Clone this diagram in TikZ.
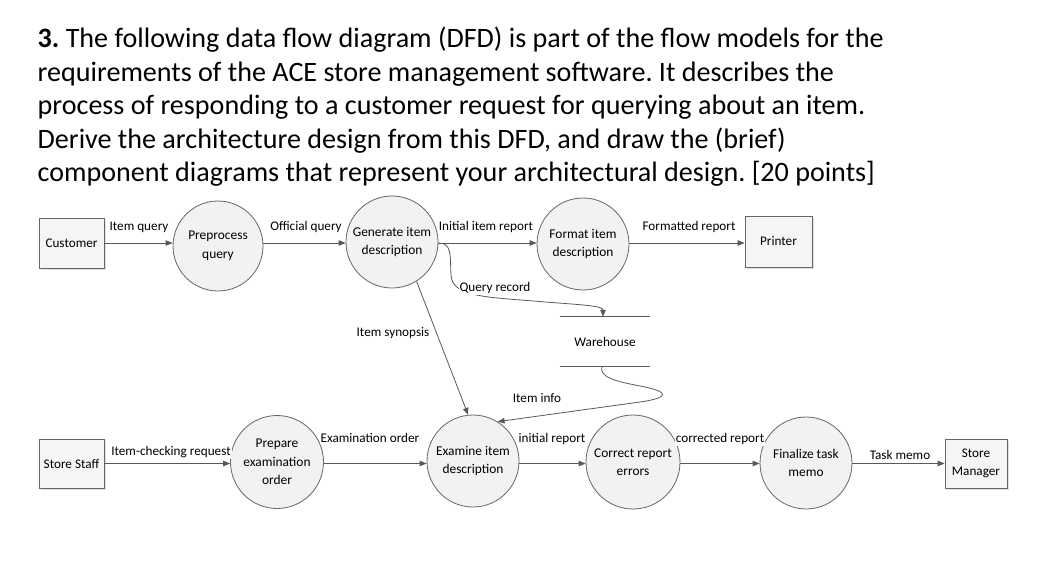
\documentclass[tikz,border=0pt]{standalone}
\usepackage{fontspec}
\setmainfont{Carlito}
\usetikzlibrary{arrows.meta,shadows}
\frenchspacing
\begin{document}
\begin{tikzpicture}[x=1pt,y=-1pt,
  title/.style={anchor=base west,inner sep=0pt,font=\fontsize{28.1}{32}\selectfont},
  proc/.style={circle,draw=black!60,line width=0.8pt,fill=black!5,minimum size=92pt,inner sep=0pt,align=center,
    font=\fontsize{13.4}{18.5}\selectfont},
  ext/.style={rectangle,draw=black!60,line width=0.8pt,fill=black!4,align=center,inner sep=2pt,
    font=\fontsize{13.2}{18}\selectfont,drop shadow={opacity=0.25,shadow xshift=1.5pt,shadow yshift=-1.5pt}},
  lbl/.style={fill=white,inner sep=1pt,font=\fontsize{13.2}{15}\selectfont},
  flow/.style={draw=black!65,line width=0.8pt,-{Triangle[length=7pt,width=5.5pt]}},
  wline/.style={draw=black!65,line width=0.8pt}]
\useasboundingbox (0,0) rectangle (1062,575);
\fill[white] (0,0) rectangle (1062,575);
% title
\node[title] (t1) at (37.5,47.7) {\textbf{3.} The following data flow diagram (DFD) is part of the flow models for the};
\node[title] (t2) at (37.5,81.2) {requirements of the ACE store management software. It describes the};
\node[title] (t3) at (37.5,114.7) {process of responding to a customer request for querying about an item.};
\node[title] (t4) at (37.5,148.2) {Derive the architecture design from this DFD, and draw the (brief)};
\node[title] (t5) at (37.5,181.7) {component diagrams that represent your architectural design. [20 points]};
% top row
\node[ext,minimum width=65pt,minimum height=50pt] (cust) at (71.5,243) {Customer};
\node[proc,minimum size=90pt] (prep) at (218,246) {Preprocess\\query};
\node[proc] (gen) at (392,242) {Generate item\\description};
\node[proc] (fmt) at (583,244) {Format item\\description};
\node[ext,minimum width=67pt,minimum height=51pt] (prn) at (778.5,241.5) {Printer};
% warehouse
\node[minimum width=90pt,minimum height=49pt,inner sep=0pt,font=\fontsize{13.2}{15}\selectfont] (wh) at (605,341.5) {Warehouse};
\draw[wline] (wh.north west) -- (wh.north east);
\draw[wline] (wh.south west) -- (wh.south east);
% bottom row
\node[ext,minimum width=65pt,minimum height=49pt] (staff) at (71.5,463.5) {Store Staff};
\node[proc,minimum size=93pt] (prepx) at (277,462) {Prepare\\examination\\order};
\node[proc] (exam) at (473,461) {Examine item\\description};
\node[proc,minimum size=94pt] (corr) at (633,462) {Correct report\\errors};
\node[proc] (fin) at (806,463) {Finalize task\\memo};
\node[ext,minimum width=62pt,minimum height=49pt] (mgr) at (976,463.5) {Store\\Manager};
% flows top
\draw[flow] (cust.east) -- (cust.east -| prep.west);
\draw[flow] (prep.east |- cust.east) -- (gen.west |- cust.east);
\draw[flow] (gen.east |- cust.east) -- (fmt.west |- cust.east);
\draw[flow] (fmt.east |- cust.east) -- (prn.west |- cust.east);
\coordinate (qs) at ([yshift=-1pt]gen.east);
\draw[flow] (qs) .. controls (452,243) and (450,255) .. (451,275)
  .. controls (452,298) and (490,297) .. (545,302)
  .. controls (585,305) and (603,306) .. ([xshift=-2pt]wh.north);
\draw[flow] (gen.-58) -- (exam.96);
\draw[flow] ([xshift=-3pt]wh.south) .. controls (598,378) and (620,382) .. (640,386)
  .. controls (672,392) and (668,398) .. (640,402) -- (exam.58);
% flows bottom
\draw[flow] (staff.east) -- (staff.east -| prepx.west);
\draw[flow] (prepx.east |- staff.east) -- (exam.west |- staff.east);
\draw[flow] (exam.east |- staff.east) -- (corr.west |- staff.east);
\draw[flow] (corr.east |- staff.east) -- (fin.west |- staff.east);
\draw[flow] (fin.east |- staff.east) -- (mgr.west |- staff.east);
% labels
\node[lbl] (l1) at (139,227) {Item query};
\node[lbl] (l2) at (306,227) {Official query};
\node[lbl] (l3) at (486,227) {Initial item report};
\node[lbl] (l4) at (689,227) {Formatted report};
\node[lbl] (l5) at (495,288) {Query record};
\node[lbl] (l6) at (393,333) {Item synopsis};
\node[lbl] (l7) at (537,398) {Item info};
\node[lbl] (l8) at (171,452) {Item-checking request};
\node[lbl] (l9) at (370,438) {Examination order};
\node[lbl] (l10) at (552,439) {initial report};
\node[lbl] (l11) at (720,439) {corrected report};
\node[lbl] (l12) at (900,455) {Task memo};
\end{tikzpicture}
\end{document}
